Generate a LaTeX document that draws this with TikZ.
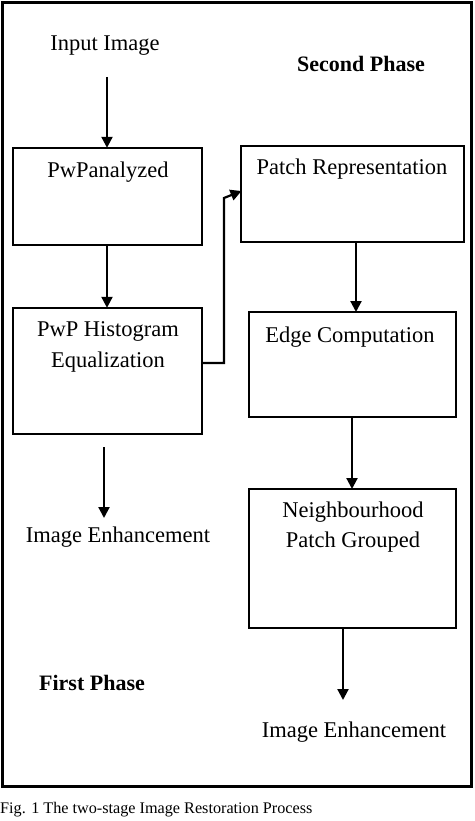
\documentclass[tikz,border=0pt]{standalone}
\usepackage{fontspec}
\setmainfont{Liberation Serif}
\usetikzlibrary{arrows.meta}
\begin{document}
\begin{tikzpicture}[x=1pt,y=-1pt,
  stepbox/.style={draw,line width=2.4pt},
  lbl/.style={font=\fontsize{22.5}{26}\selectfont,inner sep=0pt},
  phase/.style={font=\fontsize{22}{26}\selectfont\bfseries,inner sep=0pt},
  arr/.style={line width=2.2pt,-{Triangle[length=11pt,width=11pt]}}]
\useasboundingbox (0,0) rectangle (474,821);
\fill[white] (0,0) rectangle (474,821);
\draw[line width=3pt] (2.5,2.5) rectangle (471.5,786);
% boxes
\draw[stepbox] (13,148) rectangle (202,245);
\draw[stepbox] (241,146) rectangle (464,242);
\draw[stepbox] (13,308) rectangle (202,434);
\draw[stepbox] (249,312) rectangle (456,417);
\draw[stepbox] (249,489) rectangle (456,628);
\node (b1) at (107.5,196.5) [minimum width=189pt,minimum height=97pt,inner sep=0pt] {};
\node (b2) at (352.5,194) [minimum width=223pt,minimum height=96pt,inner sep=0pt] {};
\node (b3) at (107.5,371) [minimum width=189pt,minimum height=126pt,inner sep=0pt] {};
\node (b4) at (352.5,364.5) [minimum width=207pt,minimum height=105pt,inner sep=0pt] {};
\node (b5) at (352.5,558.5) [minimum width=207pt,minimum height=139pt,inner sep=0pt] {};
% texts
\node[lbl] (in) at (105,46) {Input Image};
\node[phase] (sp) at (361,64) {Second Phase};
\node[lbl] (t1) at (108,172) {PwPanalyzed};
\node[lbl] (t2) at (352,169) {Patch Representation};
\node[lbl] (t3a) at (108,331) {PwP Histogram};
\node[lbl] (t3b) at (108,362) {Equalization};
\node[lbl] (t4) at (350,337) {Edge Computation};
\node[lbl] (t5a) at (353,512) {Neighbourhood};
\node[lbl] (t5b) at (353,542) {Patch Grouped};
\node[lbl] (out1) at (118,537) {Image Enhancement};
\node[lbl] (out2) at (354,732) {Image Enhancement};
\node[phase] (fp) at (92,683) {First Phase};
\node[font=\fontsize{16.2}{19}\selectfont,inner sep=0pt,anchor=west] (cap) at (0,810) {Fig. 1 The two-stage Image Restoration Process};
% connectors
\coordinate (a0) at (107,77);
\coordinate (e1s) at (104,447);
\coordinate (e1e) at (104,518);
\coordinate (e2e) at (343,700);
\coordinate (k1) at (224,363);
\coordinate (k2) at (224,198);
\draw[arr] (a0) -- (a0 |- b1.north);
\draw[arr] (b1.south -| a0) -- (a0 |- b3.north);
\draw[arr] (356,242) -- (356,312);
\draw[arr] (352,417) -- (352,489);
\draw[arr] (343,628) -- (e2e);
\draw[arr] (e1s) -- (e1e);
\draw[arr] (202,363) -- (k1) -- (k2) -- (241.5,191);
\end{tikzpicture}
\end{document}
